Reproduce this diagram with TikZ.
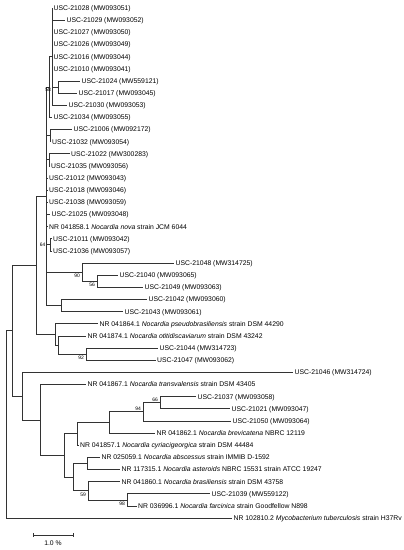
\documentclass[tikz,border=0pt]{standalone}
\usepackage{fontspec}
\setmainfont{Liberation Sans}
\usetikzlibrary{positioning,calc}
\tikzset{
  branch/.style={draw=black!80, line width=0.6bp},
  leaf/.style={anchor=west, inner sep=1.5bp, text height=4.9bp, text depth=0pt,
               font=\fontsize{6.85}{7.5}\selectfont},
  boot/.style={inner sep=0.3bp, font=\fontsize{5}{5.5}\selectfont}
}

\begin{document}
\begin{tikzpicture}[x=1bp,y=-1bp]
\useasboundingbox (0,0) rectangle (403,550);
\begin{scope}[y=-12.143bp,yshift=4.143bp]
% inner nodes: x in px, y in rows
\coordinate (n52) at (52,5);
\coordinate (n58a) at (58,7.5);
\coordinate (n49) at (49,7.5);
\coordinate (n50a) at (50,11.5);
\coordinate (n49b) at (49,13.5);
\coordinate (n50c) at (50,20.5);
\coordinate (n97) at (97,23.5);
\coordinate (n82) at (82,22.75);
\coordinate (n61) at (61,25.5);
\coordinate (n46) at (46,16.5);
\coordinate (n86) at (86,29.5);
\coordinate (n58) at (58,28.75);
\coordinate (n55) at (55,27.875);
\coordinate (n36) at (36,22.1875);
\coordinate (n160) at (160,33.5);
\coordinate (n143) at (143,34.25);
\coordinate (n109) at (109,35.125);
\coordinate (n77) at (77,36.0625);
\coordinate (n87) at (87,38.5);
\coordinate (n127) at (127,41.5);
\coordinate (n88) at (88,40.75);
\coordinate (n73) at (73,39.625);
\coordinate (n64) at (64,37.844);
\coordinate (n40) at (40,34.922);
\coordinate (n22) at (22,32.961);
\coordinate (n12) at (12,27.574);
\coordinate (root) at (6,35.287);

% leaves
\node[leaf] (l1) at (52,1) {USC-21028 (MW093051)};
\node[leaf] (l2) at (65,2) {USC-21029 (MW093052)};
\node[leaf] (l3) at (52,3) {USC-21027 (MW093050)};
\node[leaf] (l4) at (52,4) {USC-21026 (MW093049)};
\node[leaf] (l5) at (52,5) {USC-21016 (MW093044)};
\node[leaf] (l6) at (52,6) {USC-21010 (MW093041)};
\node[leaf] (l7) at (80,7) {USC-21024 (MW559121)};
\node[leaf] (l8) at (77,8) {USC-21017 (MW093045)};
\node[leaf] (l9) at (67,9) {USC-21030 (MW093053)};
\node[leaf] (l10) at (52,10) {USC-21034 (MW093055)};
\node[leaf] (l11) at (72,11) {USC-21006 (MW092172)};
\node[leaf] (l12) at (50.5,12) {USC-21032 (MW093054)};
\node[leaf] (l13) at (69.5,13) {USC-21022 (MW300283)};
\node[leaf] (l14) at (49.5,14) {USC-21035 (MW093056)};
\node[leaf] (l15) at (47.5,15) {USC-21012 (MW093043)};
\node[leaf] (l16) at (47.5,16) {USC-21018 (MW093046)};
\node[leaf] (l17) at (47.5,17) {USC-21038 (MW093059)};
\node[leaf] (l18) at (50,18) {USC-21025 (MW093048)};
\node[leaf] (l19) at (47.5,19) {NR 041858.1 \textit{Nocardia nova} strain JCM 6044};
\node[leaf] (l20) at (51.5,20) {USC-21011 (MW093042)};
\node[leaf] (l21) at (51.5,21) {USC-21036 (MW093057)};
\node[leaf] (l22) at (174,22) {USC-21048 (MW314725)};
\node[leaf] (l23) at (118,23) {USC-21040 (MW093065)};
\node[leaf] (l24) at (143,24) {USC-21049 (MW093063)};
\node[leaf] (l25) at (147,25) {USC-21042 (MW093060)};
\node[leaf] (l26) at (123,26) {USC-21043 (MW093061)};
\node[leaf] (l27) at (98,27) {NR 041864.1 \textit{Nocardia pseudobrasiliensis} strain DSM 44290};
\node[leaf] (l28) at (86,28) {NR 041874.1 \textit{Nocardia otitidiscaviarum} strain DSM 43242};
\node[leaf] (l29) at (158,29) {USC-21044 (MW314723)};
\node[leaf] (l30) at (155.5,30) {USC-21047 (MW093062)};
\node[leaf] (l31) at (293,31) {USC-21046 (MW314724)};
\node[leaf] (l32) at (86,32) {NR 041867.1 \textit{Nocardia transvalensis} strain DSM 43405};
\node[leaf] (l33) at (196,33) {USC-21037 (MW093058)};
\node[leaf] (l34) at (230,34) {USC-21021 (MW093047)};
\node[leaf] (l35) at (231,35) {USC-21050 (MW093064)};
\node[leaf] (l36) at (155,36) {NR 041862.1 \textit{Nocardia brevicatena} NBRC 12119};
\node[leaf] (l37) at (78.5,37) {NR 041857.1 \textit{Nocardia cyriacigeorgica} strain DSM 44484};
\node[leaf] (l38) at (100,38) {NR 025059.1 \textit{Nocardia abscessus} strain IMMIB D-1592};
\node[leaf] (l39) at (120,39) {NR 117315.1 \textit{Nocardia asteroids} NBRC 15531 strain ATCC 19247};
\node[leaf] (l40) at (120,40) {NR 041860.1 \textit{Nocardia brasiliensis} strain DSM 43758};
\node[leaf] (l41) at (210,41) {USC-21039 (MW559122)};
\node[leaf] (l42) at (136.5,42) {NR 036996.1 \textit{Nocardia farcinica} strain Goodfellow N898};
\node[leaf] (l43) at (232,43) {NR 102810.2 \textit{Mycobacterium tuberculosis} strain H37Rv};

% branches
\foreach \p/\c in {n52/l1.west,n52/l2.west,n52/l3.west,n52/l4.west,n52/l5.west,
    n52/l6.west,n52/n58a,n58a/l7.west,n58a/l8.west,n52/l9.west,n49/n52,n49/l10.west,
    n46/n49,n50a/l11.west,n50a/l12.west,n46/n50a,n49b/l13.west,n49b/l14.west,n46/n49b,
    n46/l15.west,n46/l16.west,n46/l17.west,n46/l18.west,n46/l19.west,
    n50c/l20.west,n50c/l21.west,n46/n50c,n82/l22.west,n97/l23.west,n97/l24.west,
    n82/n97,n46/n82,n61/l25.west,n61/l26.west,n46/n61,n36/n46,
    n55/l27.west,n58/l28.west,n86/l29.west,n86/l30.west,n58/n86,n55/n58,n36/n55,
    n12/n36,n22/l31.west,n40/l32.west,n160/l33.west,n160/l34.west,n143/n160,
    n143/l35.west,n109/n143,n109/l36.west,n77/n109,n77/l37.west,n64/n77,
    n87/l38.west,n87/l39.west,n73/n87,n88/l40.west,n127/l41.west,n127/l42.west,
    n88/n127,n73/n88,n64/n73,n40/n64,n22/n40,n12/n22,root/n12,root/l43.west}
  \draw[branch] (\p) |- (\c);

% bootstrap values
\node[boot, anchor=north east] (b58) at ([xshift=2.5bp,yshift=-1bp]n49) {58};
\node[boot, anchor=east] (b64) at ([xshift=-4bp]n50c) {64};
\node[boot, anchor=north east] (b90) at ([xshift=-1.5bp,yshift=-1.5bp]n82) {90};
\node[boot, anchor=north east] (b56) at ([xshift=-1.5bp,yshift=-1.5bp]n97) {56};
\node[boot, anchor=north east] (b92) at ([xshift=-1.5bp,yshift=-1bp]n86) {92};
\node[boot, anchor=south east] (b66) at ([xshift=-1.5bp,yshift=1bp]n160) {66};
\node[boot, anchor=south east] (b94) at ([xshift=-1.5bp,yshift=1bp]n143) {94};
\node[boot, anchor=north east] (b59) at ([xshift=-1.5bp,yshift=-1.5bp]n88) {59};
\node[boot, anchor=north east] (b98) at ([xshift=-1.5bp,yshift=-1.5bp]n127) {98};
\end{scope}

% scale bar
\coordinate (sb1) at (33,535);
\coordinate (sb2) at (73,535);
\draw[branch] (sb1) -- (sb2);
\draw[branch] ([yshift=1.7bp]sb1) -- ([yshift=-1.7bp]sb1);
\draw[branch] ([yshift=1.7bp]sb2) -- ([yshift=-1.7bp]sb2);
\node[font=\fontsize{6.8}{8}\selectfont, below=2bp of $(sb1)!0.5!(sb2)$] (sblab) {1.0 \%};
\end{tikzpicture}
\end{document}
